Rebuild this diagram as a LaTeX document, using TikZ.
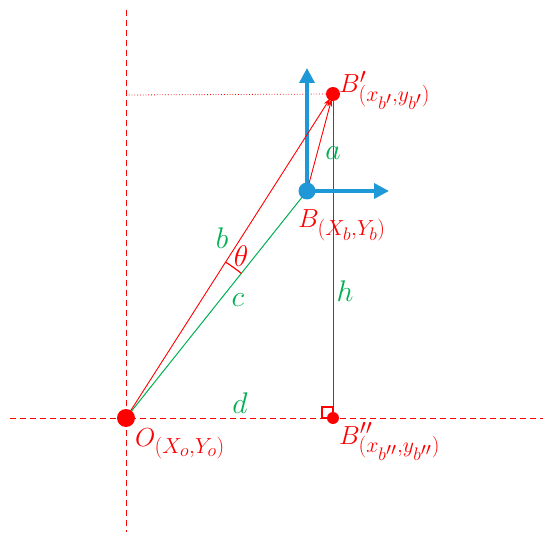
\documentclass[tikz,border=0pt]{standalone}
\usepackage{graphicx}
\usetikzlibrary{arrows.meta,angles}
\definecolor{myred}{RGB}{255,0,0}
\definecolor{mygreen}{RGB}{0,176,80}
\definecolor{myblue}{RGB}{30,152,214}
\newcommand{\biglbl}[2]{\scalebox{#1}{\fontsize{24.88}{30}\selectfont$#2$}}
\tikzset{
  axisline/.style={myred, dashed, dash pattern=on 6pt off 4pt, line width=0.9pt},
  thinred/.style={myred, line width=0.9pt},
  bluearrow/.style={myblue, line width=3.5pt, -{Triangle[length=15pt,width=15pt]}},
  dot/.style={circle, fill, inner sep=0pt},
  lbl/.style={inner sep=0pt},
}
\begin{document}
\begin{tikzpicture}[x=1pt,y=-1pt]
\useasboundingbox (0,0) rectangle (550,543);
\coordinate (O) at (126,418);
\coordinate (B) at (307,191);
\coordinate (Bp) at (333,94);
\coordinate (Bpp) at (333,418);
\coordinate (vt) at (126,10);
\coordinate (vb) at (126,532);
\coordinate (hl) at (10,418);
\coordinate (hr) at (543,418);
\coordinate (dl) at (126,95);
\coordinate (bu) at (307,68);
\coordinate (br) at (389,191);
% axes
\draw[axisline] (vt) -- (vb);
\draw[axisline] (hl) -- (hr);
\draw[myred, dotted, line width=0.8pt] (dl) -- (Bp);
% perpendicular
\draw[thinred] (Bp) -- (Bpp);
\draw[myred, line width=1.2pt] (322,407) rectangle (333,418);
% blue frame
\draw[bluearrow] (B) -- (bu);
\draw[bluearrow] (B) -- (br);
% vectors
\draw[mygreen, line width=1pt] (O) -- (B);
\draw[thinred, -{Stealth[length=8pt,width=5pt]}, shorten >=5pt] (O) -- (Bp);
\draw[thinred, -{Stealth[length=8pt,width=5pt]}, shorten >=5pt] (B) -- (Bp);
% angle
\pic[draw=myred, line width=1.2pt, angle radius=185pt] {angle=B--O--Bp};
% dots
\node[dot, myred, minimum size=18pt] (On) at (O) {};
\node[dot, myblue, minimum size=17pt] (Bn) at (B) {};
\node[dot, myred, minimum size=14pt] (Bpn) at (Bp) {};
\node[dot, myred, minimum size=12pt] (Bppn) at (Bpp) {};
% labels
\node[lbl, mygreen] (lb) at (222,238) {\biglbl{1.2}{b}};
\node[lbl, mygreen] (lc) at (238,300) {\biglbl{1.2}{c}};
\node[lbl, myred] (lt) at (241,256) {\biglbl{1.2}{\theta}};
\node[lbl, mygreen] (la) at (333,153) {\biglbl{1.2}{a}};
\node[lbl, mygreen] (lh) at (345,291) {\biglbl{1.2}{h}};
\node[lbl, mygreen] (ld) at (240,403) {\biglbl{1.2}{d}};
\node[lbl, myred, anchor=base west] (lO) at (135,446) {\biglbl{1.05}{O_{(X_o,Y_o)}}};
\node[lbl, myred, anchor=base west] (lB) at (298,228) {\biglbl{1.05}{B_{(X_b,Y_b)}}};
\node[lbl, myred, anchor=base west] (lBp) at (339,93) {\biglbl{1.05}{B'_{(x_{b'},y_{b'})}}};
\node[lbl, myred, anchor=base west] (lBpp) at (339,444) {\biglbl{1.05}{B''_{(x_{b''},y_{b''})}}};
\end{tikzpicture}
\end{document}
